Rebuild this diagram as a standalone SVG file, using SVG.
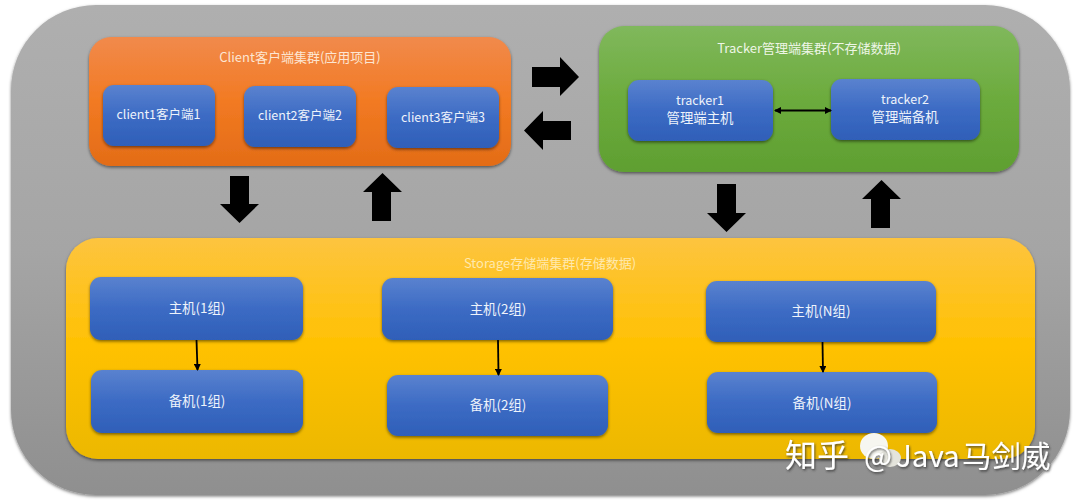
<svg xmlns="http://www.w3.org/2000/svg" width="1080" height="501" viewBox="0 0 1080 501">
<defs>
<linearGradient id="gGray" x1="0" y1="0" x2="0" y2="1"><stop offset="0" stop-color="#afafaf"/><stop offset="0.5" stop-color="#a5a5a5"/><stop offset="1" stop-color="#8f8f8f"/></linearGradient>
<linearGradient id="gOrange" x1="0" y1="0" x2="0" y2="1"><stop offset="0" stop-color="#f18a4c"/><stop offset="0.5" stop-color="#f27a22"/><stop offset="1" stop-color="#e36c17"/></linearGradient>
<linearGradient id="gGreen" x1="0" y1="0" x2="0" y2="1"><stop offset="0" stop-color="#80b85c"/><stop offset="0.5" stop-color="#6cab3d"/><stop offset="1" stop-color="#5f9f31"/></linearGradient>
<linearGradient id="gYellow" x1="0" y1="0" x2="0" y2="1"><stop offset="0" stop-color="#fdc43f"/><stop offset="0.5" stop-color="#ffc100"/><stop offset="1" stop-color="#ecb800"/></linearGradient>
<linearGradient id="gBlue" x1="0" y1="0" x2="0" y2="1"><stop offset="0" stop-color="#5a82cf"/><stop offset="0.5" stop-color="#3c6bc4"/><stop offset="1" stop-color="#2f5fb8"/></linearGradient>
<filter id="sh" x="-10%" y="-10%" width="120%" height="125%"><feDropShadow dx="0" dy="1.5" stdDeviation="1.5" flood-color="#000" flood-opacity="0.5"/></filter>
<filter id="wm" x="-5%" y="-20%" width="110%" height="140%"><feDropShadow dx="1" dy="1.5" stdDeviation="0.8" flood-color="#333" flood-opacity="0.8"/></filter>
<marker id="ah" markerWidth="7" markerHeight="7" refX="6" refY="3.500" orient="auto-start-reverse" markerUnits="userSpaceOnUse"><path d="M0 0L7 3.500L0 7Z" fill="#000"/></marker>
</defs>
<style>
text{font-family:"Noto Sans CJK SC","Noto Sans",sans-serif;fill:#eef3fb;text-anchor:middle;font-size:12.5px}
.t{font-size:13px;fill:#fde6d2}
.m{font-size:13.400px}
.box{fill:url(#gBlue);filter:url(#sh)}
.thin{stroke:#000;stroke-width:1.800;fill:none;marker-end:url(#ah)}
.big{fill:#000}
.w{font-size:29.500px;fill:#fff;text-anchor:start}
</style>
<rect width="1080" height="501" fill="#fff"/>
<rect id="outer" x="11" y="5" width="1059" height="490" rx="85" fill="url(#gGray)" filter="url(#sh)"/>

<g id="client-cluster">
<rect x="89" y="37" width="422" height="129" rx="22" fill="url(#gOrange)" filter="url(#sh)"/>
<text class="t" x="300" y="62">Client客户端集群(应用项目)</text>
</g>
<g id="client1"><rect class="box" x="103" y="85" width="112" height="61" rx="11"/><text x="158.500" y="119">client1客户端1</text></g>
<g id="client2"><rect class="box" x="244" y="86" width="112" height="61" rx="11"/><text x="300" y="120">client2客户端2</text></g>
<g id="client3"><rect class="box" x="387" y="87" width="112" height="61" rx="11"/><text x="443" y="122">client3客户端3</text></g>

<g id="tracker-cluster">
<rect x="599" y="26" width="420" height="146" rx="25" fill="url(#gGreen)" filter="url(#sh)"/>
<text class="t" x="809" y="53" style="fill:#eef6e6">Tracker管理端集群(不存储数据)</text>
</g>
<g id="tracker1"><rect class="box" x="628" y="80" width="145" height="61" rx="11"/><text x="700" y="105">tracker1</text><text class="m" x="700" y="123">管理端主机</text></g>
<g id="tracker2"><rect class="box" x="831" y="79" width="149" height="61" rx="11"/><text x="905" y="104">tracker2</text><text class="m" x="905" y="122">管理端备机</text></g>

<g id="storage-cluster">
<rect x="66" y="238" width="969" height="221" rx="32" fill="url(#gYellow)" filter="url(#sh)"/>
<text class="t" x="550" y="268" style="fill:#ffe9ad">Storage存储端集群(存储数据)</text>
</g>
<g id="host1"><rect class="box" x="90" y="277" width="213" height="63" rx="11"/><text class="m" x="197" y="313">主机(1组)</text></g>
<g id="host2"><rect class="box" x="382" y="278" width="231" height="62" rx="11"/><text class="m" x="498" y="314">主机(2组)</text></g>
<g id="hostN"><rect class="box" x="706" y="281" width="230" height="61" rx="11"/><text class="m" x="821" y="316">主机(N组)</text></g>
<g id="backup1"><rect class="box" x="91" y="370" width="212" height="63" rx="11"/><text class="m" x="197" y="406">备机(1组)</text></g>
<g id="backup2"><rect class="box" x="387" y="375" width="221" height="61" rx="11"/><text class="m" x="498" y="410">备机(2组)</text></g>
<g id="backupN"><rect class="box" x="707" y="372" width="230" height="61" rx="11"/><text class="m" x="822" y="408">备机(N组)</text></g>

<g id="connectors">
<path class="big" d="M532 67H560V57L579 77L560 96V87H532Z"/>
<path class="big" d="M571 121H543V111L524 130.500L543 150V140H571Z"/>
<path class="big" d="M230 176H249V204H259L239.500 223L220 204H230Z"/>
<path class="big" d="M372 221V192H363L382.500 173L402 192H391V221Z"/>
<path class="big" d="M717 184H736V213H746L726.500 232L707 213H717Z"/>
<path class="big" d="M871 228V199H862L881.500 180L901 199H890V228Z"/>
<path class="thin" d="M775 110.500H831" marker-start="url(#ah)"/>
<path class="thin" d="M196.500 340L197.500 370"/>
<path class="thin" d="M498 340L498.500 375"/>
<path class="thin" d="M822.500 342L823 372"/>
</g>

<g id="watermark">
<ellipse cx="874" cy="446" rx="14" ry="13" fill="#f6f6f0"/>
<ellipse cx="890" cy="458" rx="11" ry="9" fill="#e4e4dc"/>
<g filter="url(#wm)">
<text class="w" x="785" y="467" style="font-size:32px">知乎</text>
<text class="w" x="864" y="467">@</text>
<text class="w" x="896" y="467">Java</text>
<text class="w" x="962" y="467">马剑威</text>
</g>
</g>
</svg>
